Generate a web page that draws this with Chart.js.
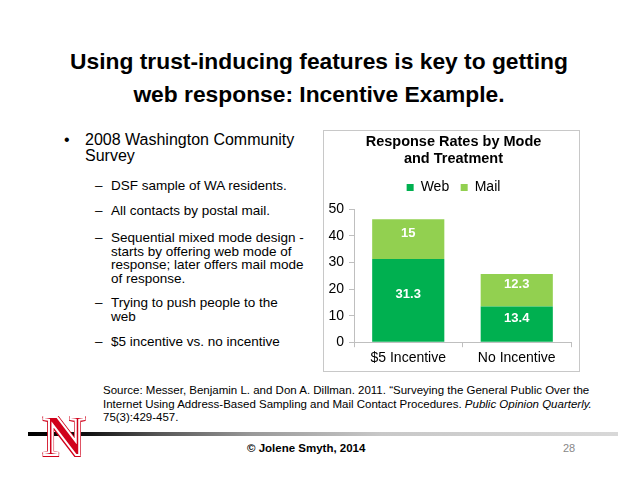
<!DOCTYPE html>
<html>
<head>
<meta charset="utf-8">
<script src="https://cdn.jsdelivr.net/npm/chart.js@4.4.1/dist/chart.umd.min.js"></script>
<style>
  body { margin:0; width:638px; height:493px; background:#fff; position:relative; overflow:hidden;
         font-family: Arial, "Liberation Sans", sans-serif; color:#000; }
  .abs { position:absolute; white-space:nowrap; }
  .title { left:0; width:638px; top:45px; text-align:center; font-weight:bold; font-size:22.8px; line-height:33px; }
  .main { font-size:16px; line-height:16px; }
  .sub { font-size:13.5px; line-height:13.5px; }
  .src { font-size:11.5px; line-height:13.5px; }
  #box { position:absolute; left:323px; top:130px; width:257px; height:242px; box-sizing:border-box;
         border:1px solid #c8c8c8; background:#fff; }
  #box div { position:relative; width:255px; height:240px; }
  .bar { left:28px; top:432px; width:590px; height:4px;
         background:linear-gradient(to right, #000 0%, #111 10%, #555 22%, #999 38%, #c8c8c8 60%, #d8d8d8 100%); }
  .logo { left:43px; top:403px; font-family:"Liberation Serif","DejaVu Serif",serif; font-weight:bold; font-size:58px;
          line-height:66px; color:#d0021b; -webkit-text-stroke:2px #fff;
          text-shadow: 1.5px 0 #d0021b, -1.5px 0 #d0021b, 0 1.5px #d0021b, 0 -1.5px #d0021b,
                       1.5px 1.5px #d0021b, -1.5px -1.5px #d0021b, 1.5px -1.5px #d0021b, -1.5px 1.5px #d0021b; }
</style>
</head>
<body>
<div class="abs title">Using trust-inducing features is key to getting<br>web response: Incentive Example.</div>

<div class="abs main" style="left:64px;top:132px;">•</div>
<div class="abs main" style="left:85px;top:132px;">2008 Washington Community<br>Survey</div>

<div class="abs sub" style="left:95px;top:179px;">–</div>
<div class="abs sub" style="left:111px;top:179px;">DSF sample of WA residents.</div>
<div class="abs sub" style="left:95px;top:204px;">–</div>
<div class="abs sub" style="left:111px;top:204px;">All contacts by postal mail.</div>
<div class="abs sub" style="left:95px;top:231px;">–</div>
<div class="abs sub" style="left:111px;top:231px;">Sequential mixed mode design -<br>starts by offering web mode of<br>response; later offers mail mode<br>of response.</div>
<div class="abs sub" style="left:95px;top:296px;">–</div>
<div class="abs sub" style="left:111px;top:296px;">Trying to push people to the<br>web</div>
<div class="abs sub" style="left:95px;top:335px;">–</div>
<div class="abs sub" style="left:111px;top:335px;">$5 incentive vs. no incentive</div>

<div id="box"><div><canvas id="chart"></canvas></div></div>

<div class="abs src" style="left:103px;top:384px;">Source: Messer, Benjamin L. and Don A. Dillman. 2011.  “Surveying the General Public Over the<br>Internet Using Address-Based Sampling and Mail Contact Procedures. <i>Public Opinion Quarterly.</i><br>75(3):429-457.</div>

<div class="abs bar"></div>
<div class="abs logo">N</div>

<div class="abs" style="left:247px;top:441px;font-size:11.5px;font-weight:bold;line-height:14px;">© Jolene Smyth, 2014</div>
<div class="abs" style="left:563px;top:441px;font-size:11px;color:#888;line-height:14px;">28</div>

<script>
const categories = ['$5 Incentive', 'No Incentive'];
const webValues = [31.3, 13.4];
const mailValues = [15, 12.3];
const yMax = 50;
const yStep = 10;

const FONT = 'Arial, "Liberation Sans", sans-serif';

// white numbers inside each bar segment
const barLabels = {
  id: 'barLabels',
  afterDatasetsDraw(chart) {
    const ctx = chart.ctx;
    ctx.save();
    ctx.fillStyle = '#fff';
    ctx.font = 'bold 13px ' + FONT;
    ctx.textAlign = 'center';
    ctx.textBaseline = 'middle';
    chart.data.datasets.forEach((ds, i) => {
      chart.getDatasetMeta(i).data.forEach((bar, j) => {
        const mid = (bar.y + bar.base) / 2 - 6;
        ctx.fillText(String(ds.data[j]), bar.x, mid);
      });
    });
    ctx.restore();
  }
};

// extra room under the legend, and title/legend nudged right like the original
const headerTweak = {
  id: 'headerTweak',
  afterInit(chart) {
    const fit = chart.legend.fit;
    chart.legend.fit = function () { fit.call(this); this.height += 5; };
  },
  afterLayout(chart) {
    [chart.titleBlock, chart.legend].forEach(b => { b.left += 6; b.right += 6; });
  }
};

new Chart(document.getElementById('chart'), {
  type: 'bar',
  data: {
    labels: categories,
    datasets: [
      { label: 'Web', data: webValues, backgroundColor: '#00b050' },
      { label: 'Mail', data: mailValues, backgroundColor: '#92d050' }
    ]
  },
  options: {
    responsive: true,
    maintainAspectRatio: false,
    animation: false,
    layout: { padding: { left: 0, right: 8, top: 0, bottom: 1 } },
    datasets: { bar: { categoryPercentage: 0.665, barPercentage: 1 } },
    plugins: {
      title: {
        display: true,
        text: ['Response Rates by Mode', 'and Treatment'],
        color: '#000',
        font: { family: FONT, size: 14.5, weight: 'bold', lineHeight: 1.17 },
        padding: { top: 3, bottom: 1 }
      },
      legend: {
        labels: { boxWidth: 7, boxHeight: 7, color: '#000', font: { family: FONT, size: 14 }, padding: 11.5 }
      },
      tooltip: { enabled: false }
    },
    scales: {
      x: {
        stacked: true,
        grid: { drawOnChartArea: false, offset: true, tickLength: 5, color: '#bfbfbf' },
        border: { color: '#bfbfbf' },
        ticks: { color: '#000', font: { family: FONT, size: 14 }, padding: 3 }
      },
      y: {
        stacked: true,
        min: 0,
        max: yMax,
        afterFit(scale) { scale.width = 30; },
        grid: { drawOnChartArea: false, tickLength: 5, color: '#bfbfbf' },
        border: { color: '#bfbfbf' },
        ticks: { stepSize: yStep, color: '#000', font: { family: FONT, size: 14 }, padding: 5 }
      }
    }
  },
  plugins: [barLabels, headerTweak]
});
</script>
</body>
</html>
